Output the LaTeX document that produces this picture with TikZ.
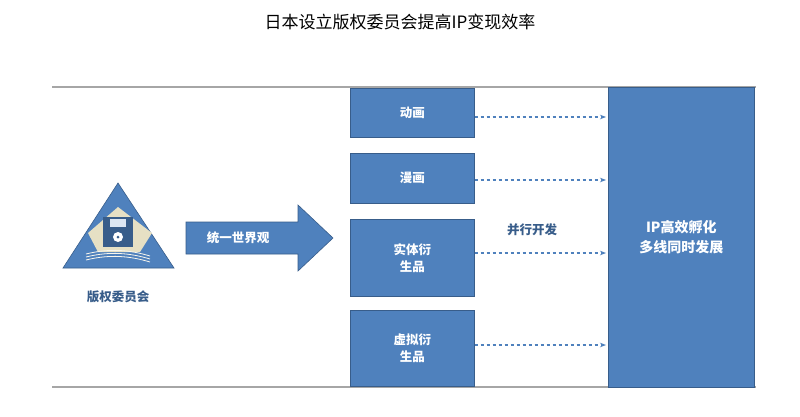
\documentclass[tikz,border=0pt]{standalone}
\usepackage{fontspec}
\setmainfont{Noto Sans CJK SC}
\usetikzlibrary{arrows.meta}
\definecolor{bblue}{RGB}{79,129,189}
\definecolor{dblue}{RGB}{56,93,138}
\definecolor{sand}{RGB}{230,224,196}
\tikzset{
 bx/.style={draw=dblue,fill=bblue,line width=0.6pt,text=white,font=\fontsize{12.5}{17}\selectfont\bfseries,align=center},
 dsh/.style={dashed,draw=bblue,line width=1.2pt,-{Stealth[length=6pt]}}
}
\begin{document}
\begin{tikzpicture}[x=1pt,y=-1pt]
\useasboundingbox (0,0) rectangle (800,416);
\fill[white] (0,0) rectangle (800,416);
\node[font=\fontsize{17}{20}\selectfont] (t) at (400,22) {日本设立版权委员会提高IP变现效率};
\draw[gray!70,line width=1.2pt] (52,87) -- (756,87);
\draw[gray!70,line width=1.2pt] (52,387) -- (756,387);
\node[bx,minimum width=146pt,minimum height=300pt,anchor=north west,font=\fontsize{14}{20}\selectfont\bfseries] (ip) at (608,87) {IP高效孵化\\多线同时发展};
\node[bx,minimum width=124pt,minimum height=49pt,anchor=north west] (a) at (350,88) {动画};
\node[bx,minimum width=124pt,minimum height=50pt,anchor=north west] (b) at (350,153) {漫画};
\node[bx,minimum width=124pt,minimum height=77pt,anchor=north west] (c) at (350,219) {实体衍\\生品};
\node[bx,minimum width=124pt,minimum height=76pt,anchor=north west] (d) at (350,310) {虚拟衍\\生品};
\coordinate (ea) at (606,117); \coordinate (eb) at (606,180);
\coordinate (ec) at (606,253); \coordinate (ed) at (606,345);
\draw[dsh] (a.east|-ea) -- (ea);
\draw[dsh] (b.east|-eb) -- (eb);
\draw[dsh] (c.east|-ec) -- (ec);
\draw[dsh] (d.east|-ed) -- (ed);
\node[font=\fontsize{12.5}{15}\selectfont\bfseries,text=dblue] (p) at (532,230) {并行开发};
\draw[dblue,fill=bblue,line width=0.6pt] (186,222) -- (298,222) -- (298,205) -- (333,238) -- (298,271) -- (298,254) -- (186,254) -- cycle;
\node[text=white,font=\fontsize{12.5}{15}\selectfont\bfseries] (w) at (238,238) {统一世界观};
\draw[dblue,fill=bblue,line width=0.6pt] (118,183) -- (174,268) -- (63,268) -- cycle;
\fill[sand] (88,233) -- (118,207) -- (152,233) -- (140,252) -- (98,252) -- cycle;
\fill[dblue] (103,217) rectangle (133,247);
\fill[white!80!bblue] (110,219) rectangle (126,227);
\fill[white] (118,237) circle (5);
\fill[dblue] (118,237) circle (1.5);
\foreach \i in {0,3,6}{\draw[white!70!sand,line width=0.8pt] (86,254+\i) .. controls (110,248+\i) and (130,250+\i) .. (150,256+\i);}
\node[font=\fontsize{12.5}{15}\selectfont\bfseries,text=dblue] (lbl) at (118,297) {版权委员会};
\end{tikzpicture}
\end{document}
